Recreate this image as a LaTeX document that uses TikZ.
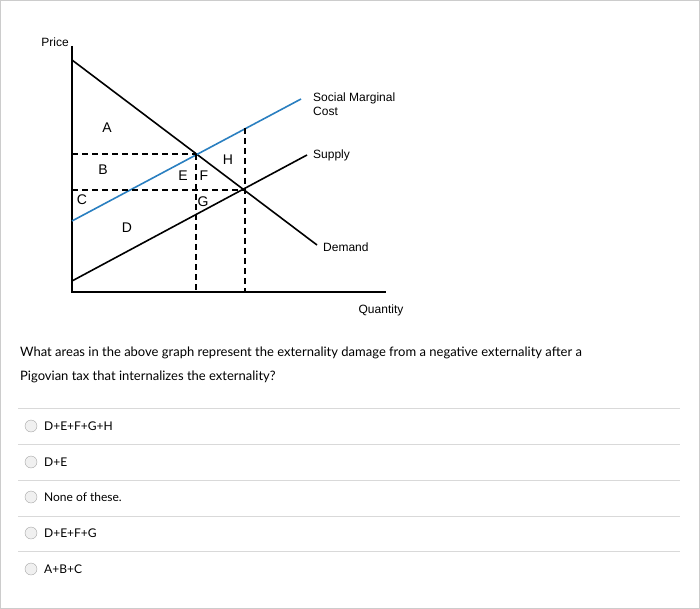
\documentclass[tikz,border=0pt]{standalone}
\usepackage{fontspec}
\setmainfont{Lato}
\setsansfont{Liberation Sans}
\definecolor{smc}{HTML}{2A7FC0}
\begin{document}
\begin{tikzpicture}[x=1pt,y=-1pt,
  gl/.style={font=\sffamily\fontsize{12}{14}\selectfont,inner sep=0},
  area/.style={font=\sffamily\fontsize{14}{16}\selectfont,inner sep=0},
  dsh/.style={dashed,dash pattern=on 6pt off 4pt,line width=1.2pt},
  crv/.style={line width=1.6pt},
  qt/.style={font=\fontsize{13}{16}\selectfont,anchor=west,inner sep=0},
  opt/.style={font=\fontsize{12}{14}\selectfont,anchor=west,inner sep=0},
  radio/.style={circle,draw=gray!70,fill=gray!12,minimum size=12pt,inner sep=0}]
\useasboundingbox (0,0) rectangle (700,609);
\draw[gray!40] (0.5,0.5) rectangle (699.5,608.5);
% axes
\coordinate (o) at (72,292);
\coordinate (yt) at (72,46);
\coordinate (xr) at (386,292);
\draw[line width=1.6pt] (yt) -- (o) -- (xr);
% curves
\coordinate (d1) at (72,60); \coordinate (d2) at (317,245);
\coordinate (s1) at (72,281); \coordinate (s2) at (307,155);
\coordinate (m1) at (72,221); \coordinate (m2) at (301,99);
\draw[crv] (d1) -- (d2);
\draw[crv] (s1) -- (s2);
\draw[crv,smc] (m1) -- (m2);
% dashed
\coordinate (h1a) at (72,154); \coordinate (h1b) at (196,154);
\coordinate (h2a) at (72,190); \coordinate (h2b) at (245,190);
\coordinate (v1a) at (196,154); \coordinate (v1b) at (196,292);
\coordinate (v2a) at (245,128); \coordinate (v2b) at (245,292);
\draw[dsh] (h1a) -- (h1b);
\draw[dsh] (h2a) -- (h2b);
\draw[dsh] (v1a) -- (v1b);
\draw[dsh] (v2a) -- (v2b);
% labels
\node[gl,anchor=east] (price) at (69,42) {Price};
\node[gl,anchor=west,align=left] (smcl) at (313,104) {Social Marginal\\Cost};
\node[gl,anchor=west] (sup) at (313,155) {Supply};
\node[gl,anchor=west] (dem) at (323,247) {Demand};
\node[gl] (qty) at (381,310) {Quantity};
\node[area] (A) at (107,128) {A};
\node[area] (B) at (103,170) {B};
\node[area] (C) at (82,200) {C};
\node[area] (D) at (127,228) {D};
\node[area] (E) at (183,176) {E};
\node[area] (F) at (204,176) {F};
\node[area] (G) at (203,202) {G};
\node[area] (H) at (228,160) {H};
% question
\node[qt] (q1) at (20,353) {What areas in the above graph represent the externality damage from a negative externality after a};
\node[qt] (q2) at (20,377) {Pigovian tax that internalizes the externality?};
\foreach \y in {408,444,480,516,551} \draw[gray!30] (18,\y) -- (680,\y);
\node[radio] (r1) at (31,426) {}; \node[opt] (o1) at (44,426) {D+E+F+G+H};
\node[radio] (r2) at (31,462) {}; \node[opt] (o2) at (44,462) {D+E};
\node[radio] (r3) at (31,497) {}; \node[opt] (o3) at (44,497) {None of these.};
\node[radio] (r4) at (31,533) {}; \node[opt] (o4) at (44,533) {D+E+F+G};
\node[radio] (r5) at (31,569) {}; \node[opt] (o5) at (44,569) {A+B+C};
\end{tikzpicture}
\end{document}
